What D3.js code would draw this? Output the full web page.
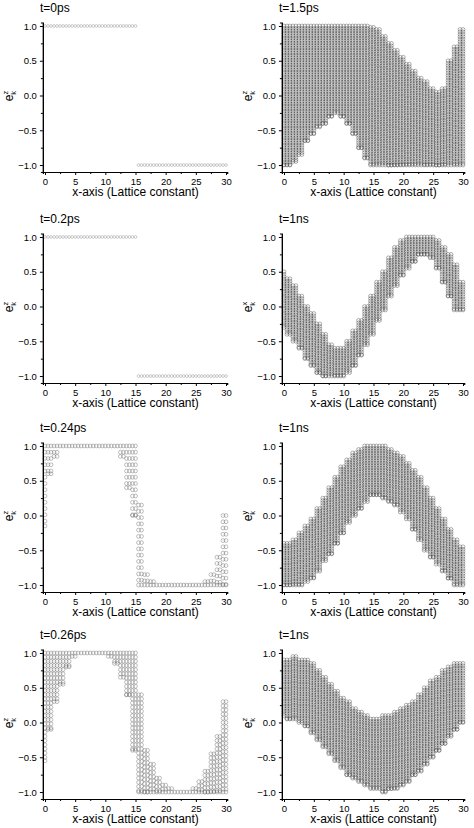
<!DOCTYPE html>
<html><head><meta charset="utf-8">
<script src="https://cdn.jsdelivr.net/npm/d3@7"></script>
<style>body{margin:0;background:#fff}text{font-family:"Liberation Sans",Arial,sans-serif}</style>
</head><body><svg id="c" width="474" height="828"></svg>
<script>
// envelopes (lo, hi) read at x = 0..30 lattice constants
const xIdx = d3.range(0, 31);
const titles = ["t=0ps","t=1.5ps","t=0.2ps","t=1ns","t=0.24ps","t=1ns","t=0.26ps","t=1ns"];
const comps = ["z","z","z","x","z","y","z","z"];
const p1Hi = [1,1,1,1,1,1,1,1,1,1,1,1,1,1,1,1,-1,-1,-1,-1,-1,-1,-1,-1,-1,-1,-1,-1,-1,-1,-1];
const p1Lo = p1Hi;
const p2Hi = [1,1,1,1,1,1,1,1,1,1,1,1,1,1,1,0.98,0.95,0.85,0.75,0.65,0.55,0.45,0.35,0.25,0.2,0.1,0.05,0.1,0.5,0.7,0.95];
const p2Lo = [-1,-1,-0.95,-0.85,-0.65,-0.55,-0.45,-0.4,-0.3,-0.25,-0.3,-0.4,-0.55,-0.75,-0.9,-1,-1,-1,-1,-1,-1,-1,-1,-1,-1,-1,-1,-1,-1,-1,-1];
const p4Hi = [1,1,1,1,1,1,1,1,1,1,1,1,1,1,1,1,0.15,-0.85,-0.95,-1,-1,-1,-1,-1,-1,-1,-1,-0.95,-0.85,-0.6,0.0];
const p4Lo = [-0.15,0.6,0.85,1,1,1,1,1,1,1,1,1,1,0.85,0.4,0.0,-1,-1,-1,-1,-1,-1,-1,-1,-1,-1,-1,-1,-1,-1,-1];
const p5Hi = [0.5,0.4,0.3,0.15,0,-0.1,-0.25,-0.4,-0.55,-0.6,-0.6,-0.5,-0.35,-0.2,0,0.15,0.35,0.5,0.7,0.85,0.95,1,1,1,1,1,0.95,0.85,0.75,0.6,0.35];
const p5Lo = [-0.3,-0.4,-0.5,-0.6,-0.75,-0.85,-0.95,-1,-1,-1,-1,-0.95,-0.85,-0.7,-0.55,-0.4,-0.2,-0.05,0.15,0.3,0.45,0.55,0.65,0.75,0.75,0.7,0.55,0.35,0.15,-0.05,-0.05];
const p6Hi = [1,1,1,1,1,1,1,1,1,1,1,1,1,1,1,1,0.4,-0.4,-0.6,-0.8,-0.9,-0.95,-1,-1,-1,-0.95,-0.85,-0.7,-0.45,-0.2,0.3];
const p6Lo = [-0.55,-0.1,0.3,0.55,0.8,0.95,1,1,1,1,1,0.95,0.85,0.65,0.4,-0.4,-1,-1,-1,-1,-1,-1,-1,-1,-1,-1,-1,-1,-1,-1,-1];
const p7Hi = [-0.4,-0.4,-0.35,-0.25,-0.15,-0.05,0.1,0.25,0.4,0.55,0.7,0.8,0.9,0.95,1,1,1,1,0.95,0.9,0.85,0.75,0.65,0.55,0.4,0.25,0.1,-0.05,-0.2,-0.35,-0.45];
const p7Lo = [-1,-1,-1,-1,-0.95,-0.9,-0.8,-0.65,-0.55,-0.4,-0.25,-0.1,0,0.1,0.2,0.3,0.3,0.25,0.2,0.15,0.05,-0.05,-0.2,-0.35,-0.5,-0.6,-0.7,-0.8,-0.9,-1,-1];
const p8Hi = [0.9,0.9,0.95,0.9,0.9,0.85,0.75,0.65,0.55,0.45,0.35,0.3,0.2,0.15,0.1,0.05,0.05,0.1,0.1,0.15,0.2,0.25,0.3,0.4,0.5,0.6,0.65,0.75,0.8,0.85,0.85];
const p8Lo = [0.1,0.05,0.05,0,-0.05,-0.15,-0.25,-0.35,-0.45,-0.55,-0.65,-0.75,-0.8,-0.85,-0.9,-0.95,-0.95,-1,-0.95,-0.95,-0.9,-0.85,-0.75,-0.7,-0.6,-0.5,-0.4,-0.3,-0.2,-0.1,0];
const his = [p1Hi,p2Hi,p1Hi,p5Hi,p4Hi,p7Hi,p6Hi,p8Hi];
const los = [p1Lo,p2Lo,p1Lo,p5Lo,p4Lo,p7Lo,p6Lo,p8Lo];
const ysteps = [1,0.035,1,0.035,0.09,0.035,0.06,0.035];
const xTicks = [0,5,10,15,20,25,30];
const yTicks = [-1.0,-0.5,0.0,0.5,1.0];

const svg = d3.select("#c");
const tops = [26,237,446,653];
const lefts = [[45,226],[284,463]];
titles.forEach((t,i)=>{
  const col = i%2, row = Math.floor(i/2), top = tops[row];
  const [xa,xb] = lefts[col];
  const x = d3.scaleLinear().domain([-0.35,30.2]).range([xa-2.1, xb+1.2]);
  const y = d3.scaleLinear().domain([-1.1,1.05]).range([top+146, top-3.5]);
  const g = svg.append("g");
  const pts = [];
  d3.range(0,30.01,0.5).forEach(xv=>{
    const k = Math.round(xv), lo = los[i][k], hi = his[i][k];
    if (lo===hi) { pts.push([xv,lo]); return; }
    for (let yv=hi; yv>=lo-1e-9; yv-=ysteps[i]) pts.push([xv,yv]);
    pts.push([xv,lo]);
  });
  const sparse = ysteps[i]===1;
  const dense = ysteps[i]<0.05;
  g.selectAll("circle").data(pts).join("circle")
    .attr("cx",d=>x(d[0])).attr("cy",d=>y(d[1])).attr("r",sparse?1.4:1.9)
    .attr("fill","none").attr("stroke",sparse?"#aaa":(dense?"#444":"#666")).attr("stroke-width",0.6).attr("stroke-opacity",sparse?1:0.7);
  g.append("g").attr("transform",`translate(0,${top+146})`)
    .call(d3.axisBottom(x).tickValues(xTicks).tickSize(3).tickSizeOuter(0).tickFormat(d3.format("d")));
  g.append("g").attr("transform",`translate(0,${top+146})`)
    .call(d3.axisBottom(x).tickValues(d3.range(2.5,30,5)).tickSize(2).tickFormat(""));
  g.append("g").attr("transform",`translate(${xa-2.1},0)`)
    .call(d3.axisLeft(y).tickValues(yTicks).tickSize(3).tickSizeOuter(0).tickFormat(d3.format(".1f")));
  g.append("g").attr("transform",`translate(${xa-2.1},0)`)
    .call(d3.axisLeft(y).tickValues([-0.75,-0.25,0.25,0.75]).tickSize(2).tickFormat(""));
  g.selectAll(".domain").attr("stroke","#000").attr("stroke-width",1.2);
  g.selectAll(".tick line").attr("stroke","#000");
  g.selectAll(".tick text").attr("font-size",9.5).attr("font-family","Liberation Sans, Arial");
  g.append("text").attr("x",xa-5).attr("y",top-14).attr("font-size",12).text(t);
  g.append("text").attr("x",(xa+xb)/2).attr("y",top+170).attr("text-anchor","middle").attr("font-size",12).text("x-axis (Lattice constant)");
  const lx = xa-32, ly = top+70;
  const yl = g.append("text").attr("transform",`translate(${lx},${ly}) rotate(-90)`).attr("text-anchor","middle").attr("font-size",12);
  yl.append("tspan").text("e");
  yl.append("tspan").attr("font-size",7.5).attr("dy",-5).text(comps[i]);
  yl.append("tspan").attr("font-size",7.5).attr("dx",-4).attr("dy",8).text("k");
});
</script></body></html>
